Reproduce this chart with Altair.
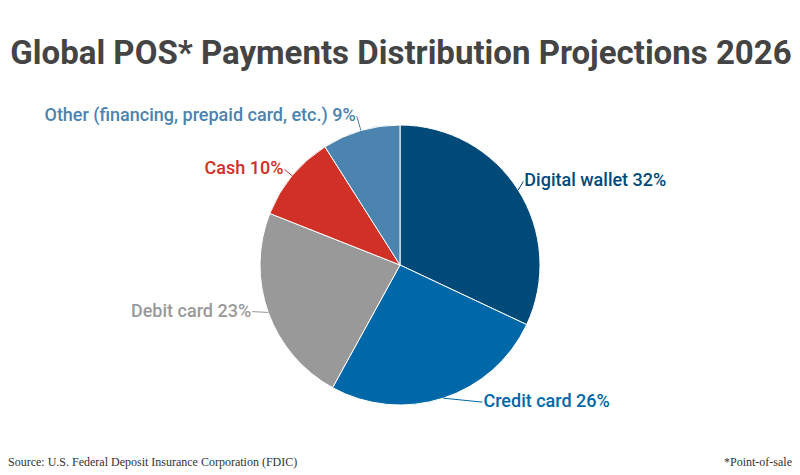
import altair as alt
import pandas as pd

# ---- data ----
categories = ["Digital wallet", "Credit card", "Debit card", "Cash", "Other (financing, prepaid card, etc.)"]
values = [32, 26, 23, 10, 9]
colors = ["#004a7a", "#0068a9", "#999999", "#d13027", "#4b84ae"]

title_text = "Global POS* Payments Distribution Projections 2026"
source_text = "Source: U.S. Federal Deposit Insurance Corporation (FDIC)"
note_text = "*Point-of-sale"

df = pd.DataFrame({
    "cat": categories,
    "value": values,
    "idx": list(range(len(categories))),
    "label": [f"{c} {v}%" for c, v in zip(categories, values)],
})

W, H = 784, 467
CX, CY, R = 392, 257, 140

color_scale = alt.Scale(domain=categories, range=colors)

pie = alt.Chart(df).mark_arc(outerRadius=R, stroke="white", strokeWidth=1).encode(
    theta=alt.Theta("value:Q", stack=True),
    order=alt.Order("idx:Q"),
    color=alt.Color("cat:N", scale=color_scale, legend=None),
    x=alt.value(CX),
    y=alt.value(CY),
)

geo = alt.Chart(df).transform_window(
    cum="sum(value)", sort=[alt.SortField("idx")], frame=[None, 0]
).transform_joinaggregate(
    total="sum(value)"
).transform_calculate(
    mid="(datum.cum - datum.value/2) / datum.total * 2 * PI"
).transform_calculate(
    lang="datum.mid + (datum.cat == 'Credit card' ? -0.227 : (datum.cat == 'Debit card' ? 0.04 : (datum.cat == 'Digital wallet' ? -0.03 : 0)))",
    lr="datum.cat == 'Credit card' ? 160 : (datum.cat == 'Digital wallet' ? 149 : (datum.cat == 'Cash' ? 150 : 155))",
    ex=f"{CX} + {R}*sin(datum.mid)",
    ey=f"{CY} - {R}*cos(datum.mid)",
).transform_calculate(
    lx=f"{CX} + datum.lr*sin(datum.lang)",
    ly=f"{CY} - datum.lr*cos(datum.lang)",
    side="sin(datum.lang) > 0 ? 'right' : 'left'",
)

leaders = geo.mark_rule(strokeWidth=1).encode(
    x=alt.X("ex:Q", scale=None),
    y=alt.Y("ey:Q", scale=None),
    x2="lx:Q",
    y2="ly:Q",
    color=alt.Color("cat:N", scale=color_scale, legend=None),
)

text_common = dict(font="Roboto", fontSize=18, fontWeight=500, baseline="middle")

labels_right = geo.transform_filter("datum.side == 'right'").mark_text(
    align="left", dx=1, **text_common
).encode(
    x=alt.X("lx:Q", scale=None),
    y=alt.Y("ly:Q", scale=None),
    text="label:N",
    color=alt.Color("cat:N", scale=color_scale, legend=None),
)

labels_left = geo.transform_filter("datum.side == 'left'").mark_text(
    align="right", dx=-1, **text_common
).encode(
    x=alt.X("lx:Q", scale=None),
    y=alt.Y("ly:Q", scale=None),
    text="label:N",
    color=alt.Color("cat:N", scale=color_scale, legend=None),
)

title = alt.Chart(pd.DataFrame({"t": [title_text]})).mark_text(
    font="Roboto", fontSize=33, fontWeight="bold", color="#444444",
    align="center", baseline="alphabetic"
).encode(x=alt.value(W / 2 + 1), y=alt.value(56), text="t:N")

source = alt.Chart(pd.DataFrame({"t": [source_text]})).mark_text(
    font="Liberation Serif", fontSize=12, color="#333333",
    align="left", baseline="alphabetic"
).encode(x=alt.value(0), y=alt.value(458), text="t:N")

note = alt.Chart(pd.DataFrame({"t": [note_text]})).mark_text(
    font="Liberation Serif", fontSize=12, color="#333333",
    align="right", baseline="alphabetic"
).encode(x=alt.value(W), y=alt.value(458), text="t:N")

chart = alt.layer(pie, leaders, labels_right, labels_left, title, source, note).properties(
    width=W, height=H, padding=0,
    autosize=alt.AutoSizeParams(type="none"),
).configure_view(stroke=None)

chart.save("out.html", embed_options={"renderer": "svg", "actions": False})
